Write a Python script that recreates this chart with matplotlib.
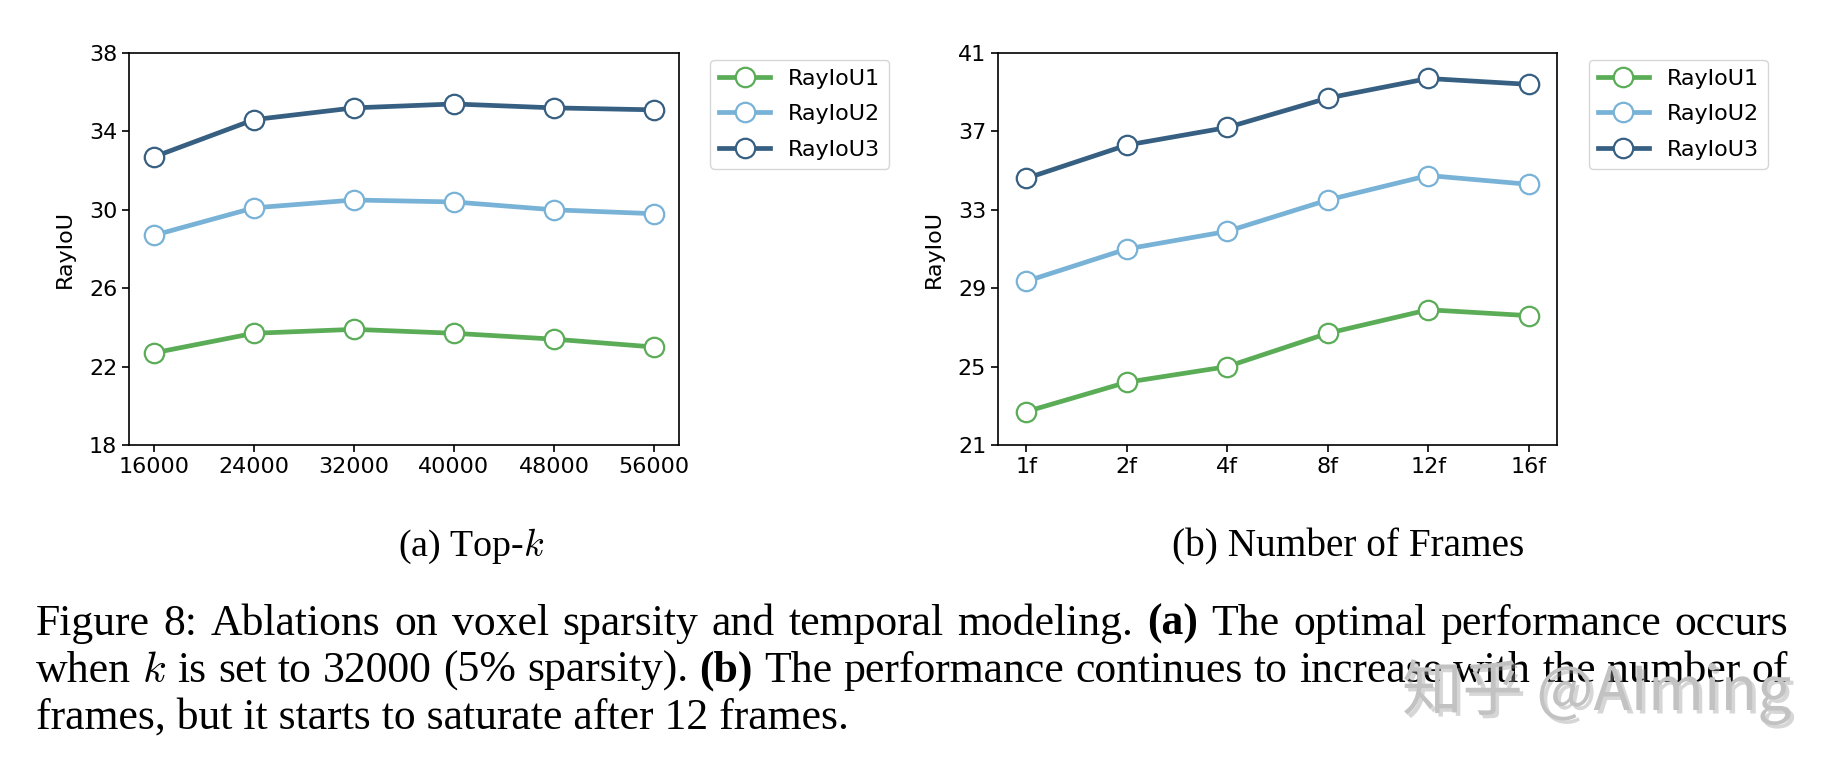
import matplotlib
matplotlib.use("Agg")
import matplotlib.pyplot as plt
import matplotlib.patheffects as pe

# data
topk = [16000, 24000, 32000, 40000, 48000, 56000]
topk_rayiou1 = [22.7, 23.7, 23.9, 23.7, 23.4, 23.0]
topk_rayiou2 = [28.7, 30.1, 30.5, 30.4, 30.0, 29.8]
topk_rayiou3 = [32.7, 34.6, 35.2, 35.4, 35.2, 35.1]

frames = ["1f", "2f", "4f", "8f", "12f", "16f"]
frames_rayiou1 = [22.7, 24.2, 25.0, 26.7, 27.9, 27.6]
frames_rayiou2 = [29.35, 31.0, 31.9, 33.5, 34.75, 34.3]
frames_rayiou3 = [34.6, 36.3, 37.2, 38.7, 39.7, 39.4]

series_names = ["RayIoU1", "RayIoU2", "RayIoU3"]
colors = ["#5aac56", "#78b2d6", "#365f82"]

plt.rcParams["mathtext.fontset"] = "cm"

W, H = 1840, 778
fig = plt.figure(figsize=(W / 100, H / 100), dpi=100)
ax1 = fig.add_axes([129 / W, 1 - 445 / H, 550 / W, 392 / H])
ax2 = fig.add_axes([998 / W, 1 - 445 / H, 559 / W, 392 / H])


def draw(ax, x, ys, yticks):
    for y, name, c in zip(ys, series_names, colors):
        ax.plot(x, y, color=c, lw=3.4, marker="o", ms=14, mfc="white",
                mec=c, mew=1.6, label=name)
    ax.set_ylim(yticks[0], yticks[-1])
    ax.set_yticks(yticks)
    ax.set_ylabel("RayIoU", fontsize=16, labelpad=10)
    ax.tick_params(labelsize=16, length=5, width=1.2)
    for s in ax.spines.values():
        s.set_linewidth(1.2)
    ax.legend(loc="upper left", bbox_to_anchor=(1.045, 1.0), borderaxespad=0.3,
              fontsize=16, handlelength=2.3, labelspacing=0.7)


draw(ax1, topk, [topk_rayiou1, topk_rayiou2, topk_rayiou3], [18, 22, 26, 30, 34, 38])
ax1.set_xticks(topk)
x2 = list(range(len(frames)))
draw(ax2, x2, [frames_rayiou1, frames_rayiou2, frames_rayiou3], [21, 25, 29, 33, 37, 41])
ax2.set_xticks(x2)
ax2.set_xticklabels(frames)
ax2.set_xlim(-0.28, 5.28)

serif = "Liberation Serif"
fs = 31.5
fig.text(471 / W, 1 - 556 / H, r"(a) Top-$k$", family=serif, fontsize=27.3,
         ha="center", va="baseline")
fig.text(1348 / W, 1 - 556 / H, "(b) Number of Frames", family=serif, fontsize=28.3,
         ha="center", va="baseline")

# caption, first two lines justified like the paper
line1 = "Figure 8: Ablations on voxel sparsity and temporal modeling. (a) The optimal performance occurs"
line2 = "when $k$ is set to 32000 (5% sparsity). (b) The performance continues to increase with the number of"
line3 = "frames, but it starts to saturate after 12 frames."
left, right = 36, 1788

renderer = fig.canvas.get_renderer()


def justify(line, base):
    words = line.split(" ")
    texts = []
    for w in words:
        bold = w in ("(a)", "(b)")
        t = fig.text(0, 1 - base / H, w, family=serif, fontsize=fs,
                     weight="bold" if bold else "normal", va="baseline")
        texts.append(t)
    widths = [t.get_window_extent(renderer).width for t in texts]
    gap = (right - left - sum(widths)) / (len(words) - 1)
    x = left
    for t, w in zip(texts, widths):
        t.set_x(x / W)
        x += w + gap


justify(line1, 635)
justify(line2, 682)
fig.text(left / W, 1 - 729 / H, line3, family=serif, fontsize=fs, va="baseline")

# watermark
fig.text(1402 / W, 1 - 710 / H, "知乎 @AIming", family=["Noto Sans CJK SC", "DejaVu Sans"],
         fontsize=43.5, color="#c2c2c2", weight="light", va="baseline",
         path_effects=[pe.withSimplePatchShadow(offset=(2.5, -2.5), shadow_rgbFace="#999999", alpha=0.4)])

fig.savefig("out.png", dpi=100)
